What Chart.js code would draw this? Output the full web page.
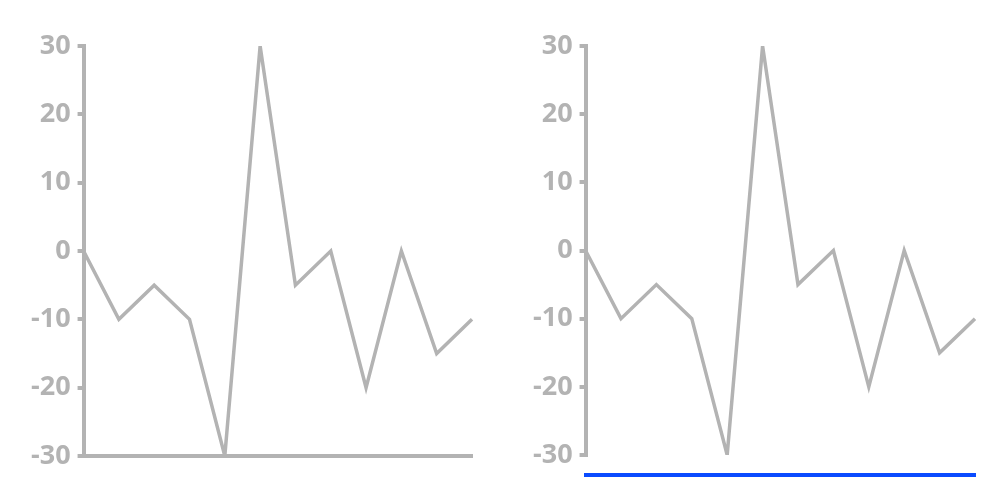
<!DOCTYPE html>
<html>
<head>
<meta charset="utf-8">
<script src="https://cdn.jsdelivr.net/npm/chart.js@4"></script>
<style>
html,body{margin:0;padding:0;background:#fff;}
#wrap{display:flex;width:1000px;height:500px;}
.box{position:relative;width:500px;height:500px;}
</style>
</head>
<body>
<div id="wrap">
<div class="box"><canvas id="c1"></canvas></div>
<div class="box"><canvas id="c2"></canvas></div>
</div>
<script>
const categories = ['1','2','3','4','5','6','7','8','9','10','11','12'];
const seriesValues = [0, -10, -5, -10, -30, 30, -5, 0, -20, 0, -15, -10];
const yTicks = [-30, -20, -10, 0, 10, 20, 30];

const GRAY = '#b3b3b3';
const BLUE = '#0a4bff';
Chart.defaults.font.family = '"Open Sans"';

function yScale() {
  return {
    min: -30, max: 30,
    afterBuildTicks: s => { s.ticks = yTicks.map(v => ({value: v})); },
    ticks: {color: GRAY, font: {size: 27, weight: '700'}, padding: 7},
    grid: {drawOnChartArea: false, drawTicks: true, tickLength: 6, color: GRAY, lineWidth: 4},
    border: {display: true, color: GRAY, width: 4}
  };
}
function ds() {
  return [{data: seriesValues, borderColor: GRAY, borderWidth: 3.5, pointRadius: 0, fill: false, tension: 0}];
}
const base = {
  responsive: true, maintainAspectRatio: false, animation: false,
  plugins: {legend: {display: false}, tooltip: {enabled: false}}
};

new Chart(document.getElementById('c1'), {
  type: 'line',
  data: {labels: categories, datasets: ds()},
  options: Object.assign({}, base, {
    layout: {padding: {top: 46, right: 28, bottom: 36, left: 24}},
    scales: {
      x: {
        ticks: {display: false},
        grid: {display: false},
        border: {display: true, color: GRAY, width: 4}
      },
      y: yScale()
    }
  })
});

new Chart(document.getElementById('c2'), {
  type: 'line',
  data: {labels: categories, datasets: ds()},
  options: Object.assign({}, base, {
    layout: {padding: {top: 46, right: 25, bottom: 17, left: 26}},
    scales: {
      x: {
        ticks: {display: false},
        grid: {display: true, drawOnChartArea: false, drawTicks: true, tickLength: 20, color: 'rgba(0,0,0,0)'},
        border: {display: false}
      },
      x2: {
        type: 'category', position: 'bottom', labels: categories,
        ticks: {display: false},
        grid: {display: false},
        border: {display: true, color: BLUE, width: 4}
      },
      y: yScale()
    }
  })
});
</script>
</body>
</html>
